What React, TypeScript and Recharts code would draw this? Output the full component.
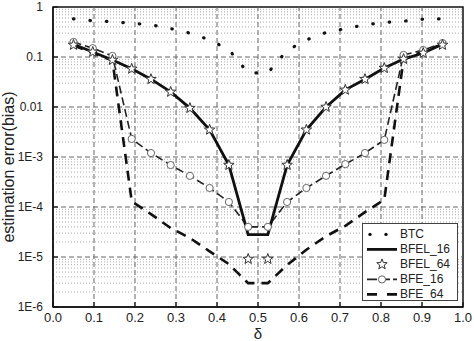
import React from 'react';
import { LineChart, Line, XAxis, YAxis, ReferenceLine, ReferenceArea, Legend } from 'recharts';

const DELTA = [0.05, 0.097, 0.145, 0.192, 0.239, 0.287, 0.334, 0.382, 0.429, 0.476, 0.524, 0.571, 0.618, 0.666, 0.713, 0.761, 0.808, 0.855, 0.903, 0.95];
const BTC = [0.58, 0.53, 0.51, 0.47, 0.44, 0.37, 0.3, 0.22, 0.14, 0.048, 0.048, 0.135, 0.22, 0.31, 0.37, 0.44, 0.49, 0.52, 0.57, 0.58];
const BFEL_16 = [0.18, 0.126, 0.087, 0.058, 0.036, 0.02, 0.0095, 0.0035, 0.00069, 2.8e-5, 2.8e-5, 0.00069, 0.0035, 0.01, 0.022, 0.036, 0.06, 0.091, 0.12, 0.18];
const BFEL_64 = [0.174, 0.126, 0.087, 0.058, 0.036, 0.02, 0.0095, 0.0035, 0.00069, 9.1e-6, 9.1e-6, 0.00069, 0.0035, 0.01, 0.022, 0.036, 0.06, 0.091, 0.12, 0.174];
const BFE_16 = [0.2, 0.15, 0.105, 0.0023, 0.0012, 0.00069, 0.00042, 0.00024, 0.000126, 4e-5, 4e-5, 0.000126, 0.00024, 0.00042, 0.00072, 0.0012, 0.0022, 0.11, 0.138, 0.19];
const BFE_64 = [0.17, 0.12, 0.085, 0.00013, 7.2e-5, 3.8e-5, 2.4e-5, 1.3e-5, 7.2e-6, 3e-6, 3e-6, 6.9e-6, 1.4e-5, 2.6e-5, 4.2e-5, 7.9e-5, 0.00014, 0.09, 0.13, 0.18];

const X_TICKS = [0, 0.1, 0.2, 0.3, 0.4, 0.5, 0.6, 0.7, 0.8, 0.9, 1.0];
const X_GRID = [0.1, 0.2, 0.3, 0.4, 0.5, 0.6, 0.7, 0.8, 0.9];
const Y_TICKS = [1e-6, 1e-5, 1e-4, 1e-3, 0.01, 0.1, 1];
const Y_TICK_LABELS = ['1E-6', '1E-5', '1E-4', '1E-3', '0.01', '0.1', '1'];
const Y_MAJOR_GRID = [1e-5, 1e-4, 1e-3, 0.01, 0.1];

const SERIES_NAMES = ['BTC', 'BFEL_16', 'BFEL_64', 'BFE_16', 'BFE_64'];
const Y_TITLE = 'estimation error(bias)';
const X_TITLE = 'δ';

const data = DELTA.map((d, i) => ({
  delta: d,
  btc: BTC[i],
  bfel16: BFEL_16[i],
  bfel64: BFEL_64[i],
  bfe16: BFE_16[i],
  bfe64: BFE_64[i],
}));

const minorY: number[] = [];
for (let e = -6; e < 0; e++) {
  for (let m = 2; m <= 9; m++) minorY.push(m * Math.pow(10, e));
}

const FONT = "'Liberation Sans', Arial, sans-serif";

const starPoints = (cx: number, cy: number, R: number, r: number) => {
  const pts: string[] = [];
  for (let k = 0; k < 10; k++) {
    const a = -Math.PI / 2 + (k * Math.PI) / 5;
    const rr = k % 2 === 0 ? R : r;
    pts.push(`${(cx + rr * Math.cos(a)).toFixed(2)},${(cy + rr * Math.sin(a)).toFixed(2)}`);
  }
  return pts.join(' ');
};

const StarDot = (props: any) => {
  const { cx, cy, index } = props;
  if (cx == null || cy == null) return <g key={`s${index}`} />;
  return <polygon key={`s${index}`} points={starPoints(cx, cy, 5.5, 2.3)} fill="#fff" stroke="#333" strokeWidth={1} />;
};

const CircleDot = (props: any) => {
  const { cx, cy, index } = props;
  if (cx == null || cy == null) return <g key={`c${index}`} />;
  return <circle key={`c${index}`} cx={cx} cy={cy} r={3.6} fill="#fff" stroke="#666" strokeWidth={1} />;
};

const YTitle = (props: any) => {
  const vb = props.viewBox || { x: 0, y: 7, width: 53, height: 300 };
  const x = vb.x + 14;
  const y = vb.y + vb.height / 2 + 10;
  return (
    <text x={x} y={y} transform={`rotate(-90 ${x} ${y})`} textAnchor="middle" fill="#222" fontSize={16} fontFamily={FONT}>
      {Y_TITLE}
    </text>
  );
};

const LegendBox = () => {
  const rowH = 14.8;
  const samples = [
    <g>
      <circle cx={3} cy={rowH / 2} r={1.7} fill="#111" />
      <circle cx={19} cy={rowH / 2} r={1.7} fill="#111" />
    </g>,
    <line x1={0} y1={rowH / 2} x2={30} y2={rowH / 2} stroke="#111" strokeWidth={2.8} />,
    <polygon points={starPoints(15, rowH / 2, 5.5, 2.3)} fill="#fff" stroke="#333" strokeWidth={1} />,
    <g>
      <line x1={0} y1={rowH / 2} x2={30} y2={rowH / 2} stroke="#222" strokeWidth={1.6} strokeDasharray="10 3" />
      <circle cx={15} cy={rowH / 2} r={3.6} fill="#fff" stroke="#666" strokeWidth={1} />
    </g>,
    <line x1={0} y1={rowH / 2} x2={30} y2={rowH / 2} stroke="#111" strokeWidth={2.6} strokeDasharray="10 10" />,
  ];
  return (
    <div
      style={{
        width: 96,
        height: 78,
        boxSizing: 'border-box',
        border: '1px solid #444',
        background: '#fff',
        paddingTop: 3.4,
        fontFamily: FONT,
        fontSize: 12,
        color: '#222',
      }}
    >
      {SERIES_NAMES.map((n, i) => (
        <div key={n} style={{ display: 'flex', alignItems: 'center', height: rowH, paddingLeft: 4 }}>
          <svg width={32} height={rowH} style={{ display: 'block' }}>
            {samples[i]}
          </svg>
          <span style={{ marginLeft: 1, lineHeight: `${rowH}px` }}>{n}</span>
        </div>
      ))}
    </div>
  );
};

export default function App() {
  return (
    <div style={{ position: 'absolute', left: 0, top: 0, width: 474, height: 341, background: '#fff' }}>
      <LineChart width={474} height={341} data={data} margin={{ top: 7, right: 11, left: 0, bottom: 0 }}>
        <XAxis
          dataKey="delta"
          type="number"
          domain={[0, 1]}
          ticks={X_TICKS}
          interval={0}
          allowDataOverflow
          tickFormatter={(v: number) => v.toFixed(1)}
          tickSize={-5}
          tickMargin={11}
          height={34}
          axisLine={{ stroke: '#111', strokeWidth: 1.5 }}
          tickLine={{ stroke: '#111', strokeWidth: 1.2 }}
          tick={{ fill: '#222', fontSize: 13, fontFamily: FONT }}
          label={{ value: X_TITLE, position: 'insideBottom', offset: 2, fill: '#222', fontSize: 15, fontFamily: FONT }}
        />
        <YAxis
          type="number"
          scale="log"
          domain={[1e-6, 1]}
          ticks={Y_TICKS}
          interval={0}
          allowDataOverflow
          tickFormatter={(v: number) => Y_TICK_LABELS[Y_TICKS.findIndex((t) => Math.abs(Math.log10(t) - Math.log10(v)) < 1e-6)] ?? ''}
          tickSize={-5}
          tickMargin={15}
          width={53}
          axisLine={{ stroke: '#111', strokeWidth: 1.5 }}
          tickLine={{ stroke: '#111', strokeWidth: 1.2 }}
          tick={{ fill: '#222', fontSize: 12, fontFamily: FONT }}
          label={(p: any) => <YTitle {...p} />}
        />
        {minorY.map((v) => (
          <ReferenceLine key={`my${v}`} y={v} stroke="#aaa" strokeWidth={1} strokeDasharray="1 2" />
        ))}
        {Y_MAJOR_GRID.map((v) => (
          <ReferenceLine key={`My${v}`} y={v} stroke="#666" strokeWidth={1} strokeDasharray="5 3" />
        ))}
        {X_GRID.map((v) => (
          <ReferenceLine key={`Mx${v}`} x={v} stroke="#666" strokeWidth={1} strokeDasharray="5 3" />
        ))}
        <Line dataKey="btc" stroke="#111" strokeWidth={3.2} strokeDasharray="0.5 16" strokeLinecap="round" dot={false} isAnimationActive={false} />
        <Line dataKey="bfe64" stroke="#111" strokeWidth={2.6} strokeDasharray="10 7" dot={false} isAnimationActive={false} />
        <Line dataKey="bfe16" stroke="#222" strokeWidth={1.6} strokeDasharray="8 4" dot={CircleDot} isAnimationActive={false} />
        <Line dataKey="bfel16" stroke="#111" strokeWidth={2.8} dot={false} isAnimationActive={false} />
        <Line dataKey="bfel64" stroke="none" dot={StarDot} isAnimationActive={false} />
        <ReferenceArea x1={0} x2={1} y1={1e-6} y2={1} fill="none" stroke="#111" strokeWidth={1.5} />
        <Legend
          content={LegendBox}
          layout="vertical"
          align="center"
          verticalAlign="middle"
          wrapperStyle={{ left: 362, top: 223, width: 96, height: 78 }}
        />
      </LineChart>
    </div>
  );
}
